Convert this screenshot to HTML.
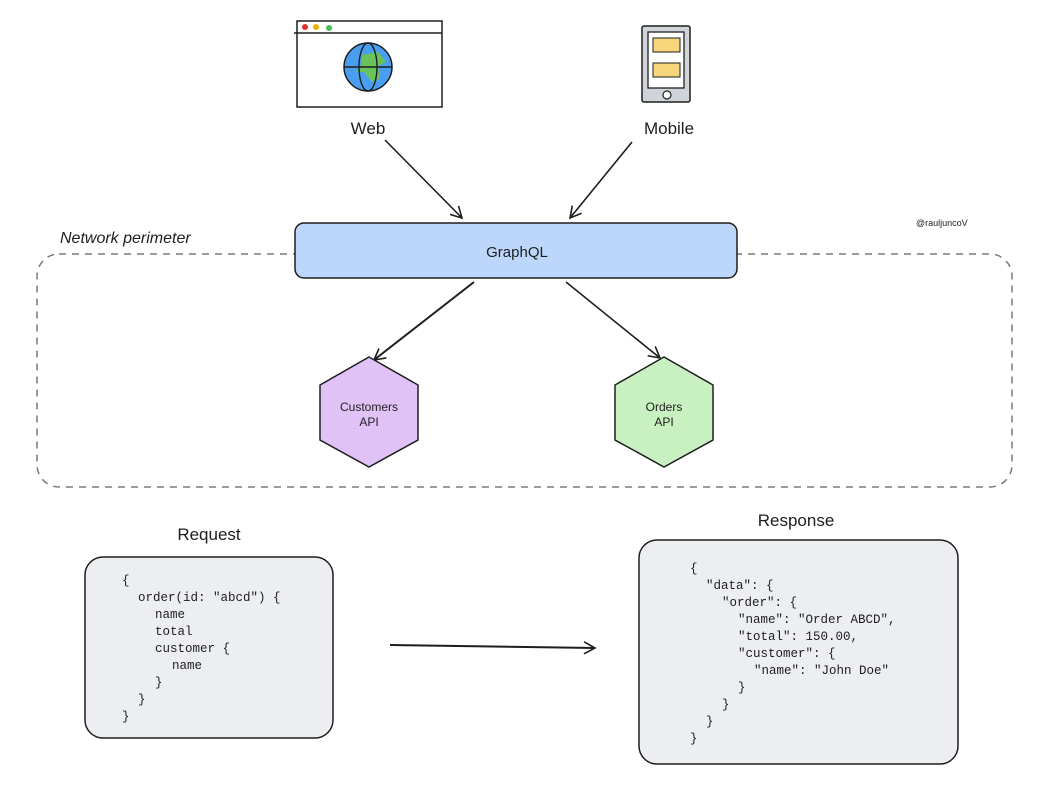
<!DOCTYPE html>
<html><head><meta charset="utf-8"><style>
html,body{margin:0;padding:0;background:#fff;}
svg{display:block;}
.h{font-family:"Liberation Sans",sans-serif;fill:#1e1e1e;}
.m{font-family:"Liberation Mono","DejaVu Sans Mono",monospace;font-size:12.5px;fill:#1e1e1e;}
</style></head><body>
<svg width="1053" height="785" viewBox="0 0 1053 785" xmlns="http://www.w3.org/2000/svg">
<defs>
<marker id="a" markerWidth="14" markerHeight="14" refX="12" refY="7" orient="auto" markerUnits="userSpaceOnUse">
<path d="M1,1 L12,7 L1,13" fill="none" stroke="#1e1e1e" stroke-width="1.6"/>
</marker>
</defs>
<!-- browser -->
<rect x="297" y="21" width="145" height="86" fill="#fff" stroke="#1e1e1e" stroke-width="1.5"/>
<line x1="294" y1="33" x2="442" y2="33" stroke="#1e1e1e" stroke-width="1.5"/>
<circle cx="305" cy="27" r="3" fill="#e03131"/>
<circle cx="316" cy="27" r="3" fill="#f0b000"/>
<circle cx="329" cy="28" r="3" fill="#40c057"/>
<circle cx="368" cy="67" r="24" fill="#4a9eef" stroke="#1e1e1e" stroke-width="1.5"/>
<path d="M362,55 L378,52 L386,62 L378,66 L380,78 L372,82 L364,72 L356,72 L362,64Z" fill="#6ac35a"/>
<ellipse cx="368" cy="67" rx="9" ry="24" fill="none" stroke="#1e1e1e" stroke-width="1.4"/>
<line x1="344" y1="67" x2="392" y2="67" stroke="#1e1e1e" stroke-width="1.4"/>
<text class="h" x="368" y="134" font-size="17" text-anchor="middle">Web</text>
<!-- phone -->
<rect x="642" y="26" width="48" height="76" rx="2" fill="#ced4da" stroke="#1e1e1e" stroke-width="1.5"/>
<rect x="648" y="32" width="36" height="56" fill="#fff" stroke="#1e1e1e" stroke-width="1.3"/>
<rect x="653" y="38" width="27" height="14" fill="#f7d57a" stroke="#1e1e1e" stroke-width="1"/>
<rect x="653" y="63" width="27" height="14" fill="#f7d57a" stroke="#1e1e1e" stroke-width="1"/>
<circle cx="667" cy="95" r="4" fill="#fff" stroke="#1e1e1e" stroke-width="1.2"/>
<text class="h" x="669" y="134" font-size="17" text-anchor="middle">Mobile</text>
<!-- arrows top -->
<line x1="385" y1="140" x2="462" y2="218" stroke="#1e1e1e" stroke-width="1.6" marker-end="url(#a)"/>
<line x1="632" y1="142" x2="570" y2="218" stroke="#1e1e1e" stroke-width="1.6" marker-end="url(#a)"/>
<!-- perimeter -->
<rect x="37" y="254" width="975" height="233" rx="22" fill="none" stroke="#7a7a7a" stroke-width="1.5" stroke-dasharray="7,6"/>
<text class="h" x="60" y="243" font-size="16" font-style="italic">Network perimeter</text>
<text class="h" x="916" y="226" font-size="9" fill="#555">@rauljuncoV</text>
<!-- graphql -->
<rect x="295" y="223" width="442" height="55" rx="9" fill="#bcd7fb" stroke="#1e1e1e" stroke-width="1.5"/>
<text class="h" x="517" y="257" font-size="15" text-anchor="middle">GraphQL</text>
<line x1="474" y1="282" x2="374" y2="360" stroke="#1e1e1e" stroke-width="2" marker-end="url(#a)"/>
<line x1="566" y1="282" x2="660" y2="358" stroke="#1e1e1e" stroke-width="1.6" marker-end="url(#a)"/>
<!-- hexagons -->
<polygon points="369,357 418,385 418,440 369,467 320,440 320,385" fill="#e0c2f7" stroke="#1e1e1e" stroke-width="1.5"/>
<text class="h" x="369" y="411" font-size="12" text-anchor="middle">Customers</text>
<text class="h" x="369" y="426" font-size="12" text-anchor="middle">API</text>
<polygon points="664,357 713,385 713,440 664,467 615,440 615,385" fill="#c8f0c0" stroke="#1e1e1e" stroke-width="1.5"/>
<text class="h" x="664" y="411" font-size="12" text-anchor="middle">Orders</text>
<text class="h" x="664" y="426" font-size="12" text-anchor="middle">API</text>
<!-- request -->
<text class="h" x="209" y="540" font-size="17" text-anchor="middle">Request</text>
<rect x="85" y="557" width="248" height="181" rx="18" fill="#eceef1" stroke="#1e1e1e" stroke-width="1.5"/>
<g class="m">
<text x="122" y="584">{</text>
<text x="138" y="601">order(id: "abcd") {</text>
<text x="155" y="618">name</text>
<text x="155" y="635">total</text>
<text x="155" y="652">customer {</text>
<text x="172" y="669">name</text>
<text x="155" y="686">}</text>
<text x="138" y="703">}</text>
<text x="122" y="720">}</text>
</g>
<line x1="390" y1="645" x2="595" y2="648" stroke="#1e1e1e" stroke-width="2" marker-end="url(#a)"/>
<!-- response -->
<text class="h" x="796" y="526" font-size="17" text-anchor="middle">Response</text>
<rect x="639" y="540" width="319" height="224" rx="18" fill="#eceef1" stroke="#1e1e1e" stroke-width="1.5"/>
<g class="m">
<text x="690" y="572">{</text>
<text x="706" y="589">"data": {</text>
<text x="722" y="606">"order": {</text>
<text x="738" y="623">"name": "Order ABCD",</text>
<text x="738" y="640">"total": 150.00,</text>
<text x="738" y="657">"customer": {</text>
<text x="754" y="674">"name": "John Doe"</text>
<text x="738" y="691">}</text>
<text x="722" y="708">}</text>
<text x="706" y="725">}</text>
<text x="690" y="742">}</text>
</g>
</svg>
</body></html>
